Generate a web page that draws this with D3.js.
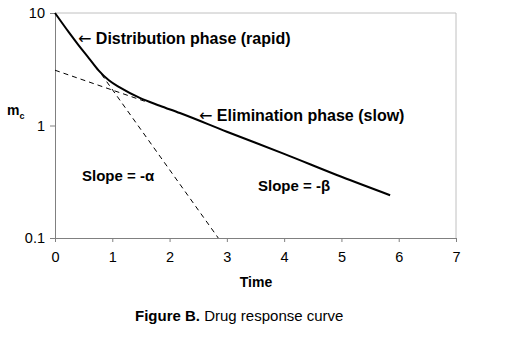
<!DOCTYPE html>
<html><head><meta charset="utf-8">
<script src="https://cdn.jsdelivr.net/npm/d3@7"></script>
<style>body{margin:0;background:#fff}svg{display:block;font-family:"Liberation Sans",Arial,sans-serif}</style>
</head><body><svg id="c" width="509" height="347"></svg>
<script>
// Data
const solidT   = [0, 0.24, 0.41, 0.59, 0.76, 0.94, 1.13, 1.48, 1.83, 2.18, 3.0, 4.0, 5.0, 5.85];
const solidV   = [10, 6.76, 5.19, 3.98, 3.09, 2.52, 2.18, 1.76, 1.5, 1.29, 0.88, 0.56, 0.35, 0.24];
const elimT    = [0, 1.6];
const elimV    = [3.1, 1.62];
const distT    = [0.72, 2.85];
const distV    = [3.31, 0.1];
const xTicks   = [0, 1, 2, 3, 4, 5, 6, 7];
const yTicks   = [0.1, 1, 10];
const yTickLabels = ["0.1", "1", "10"];

const svg = d3.select("#c");
const x = d3.scaleLinear().domain([0, 7]).range([55, 456]);
const y = d3.scaleLog().domain([0.1, 10]).range([238, 13]);

// plot border (top/right)
svg.append("path").attr("d", `M${x(0)},${y(10)}H${x(7)}V${y(0.1)}`)
  .attr("fill", "none").attr("stroke", "#c0c0c0").attr("stroke-width", 1);

// axes
const gx = svg.append("g").attr("transform", `translate(0,${y(0.1)})`)
  .call(d3.axisBottom(x).tickValues(xTicks).tickFormat(d3.format("d")).tickSize(4).tickPadding(10));
const gy = svg.append("g").attr("transform", `translate(${x(0)},0)`)
  .call(d3.axisLeft(y).tickValues(yTicks).tickFormat((d, i) => yTickLabels[i]).tickSize(5).tickPadding(5));
[gx, gy].forEach(g => {
  g.select(".domain").attr("stroke", "#808080");
  g.selectAll(".tick line").attr("stroke", "#808080");
  g.selectAll("text").attr("font-size", 14.5).attr("fill", "#000")
    .attr("font-family", '"Liberation Sans",Arial,sans-serif');
});

const line = d3.line().x(d => x(d[0])).y(d => y(d[1]));
const curve = d3.line().x(d => x(d[0])).y(d => y(d[1])).curve(d3.curveMonotoneX);

// dashed extrapolations
svg.append("path").datum(elimT.map((t, i) => [t, elimV[i]])).attr("d", line)
  .attr("fill", "none").attr("stroke", "#000").attr("stroke-width", 1).attr("stroke-dasharray", "5,4");
svg.append("path").datum(distT.map((t, i) => [t, distV[i]])).attr("d", line)
  .attr("fill", "none").attr("stroke", "#000").attr("stroke-width", 1).attr("stroke-dasharray", "5,4");

// solid curve
svg.append("path").datum(solidT.map((t, i) => [t, solidV[i]])).attr("d", curve)
  .attr("fill", "none").attr("stroke", "#000").attr("stroke-width", 2);

// annotations
const arrowAnn = (txt, xx, yy) => {
  const t = svg.append("text").attr("x", xx).attr("y", yy).attr("font-size", 16);
  t.append("tspan").attr("font-family", '"DejaVu Sans",sans-serif').attr("font-weight", "normal").text("←");
  t.append("tspan").attr("font-weight", "bold").text(" " + txt);
};
arrowAnn("Distribution phase (rapid)", 78, 44);
arrowAnn("Elimination phase (slow)", 199, 121);
const ann = (txt, xx, yy, size) => svg.append("text").attr("x", xx).attr("y", yy)
  .attr("font-size", size).attr("font-weight", "bold").text(txt);
ann("Slope = -α", 82, 181, 15);
ann("Slope = -β", 258, 191, 15);

// y title m_c
const yt = svg.append("text").attr("x", 7).attr("y", 115).attr("font-size", 14).attr("font-weight", "bold");
yt.append("tspan").text("m");
yt.append("tspan").attr("font-size", 9).attr("dy", 4).text("c");

// x title
svg.append("text").attr("x", 256).attr("y", 287).attr("text-anchor", "middle")
  .attr("font-size", 14).attr("font-weight", "bold").text("Time");

// caption
const cap = svg.append("text").attr("x", 135).attr("y", 321).attr("font-size", 15);
cap.append("tspan").attr("font-weight", "bold").text("Figure B.");
cap.append("tspan").attr("font-family", '"Liberation Sans Narrow","Liberation Sans",Arial').text(" Drug response curve");
</script></body></html>
